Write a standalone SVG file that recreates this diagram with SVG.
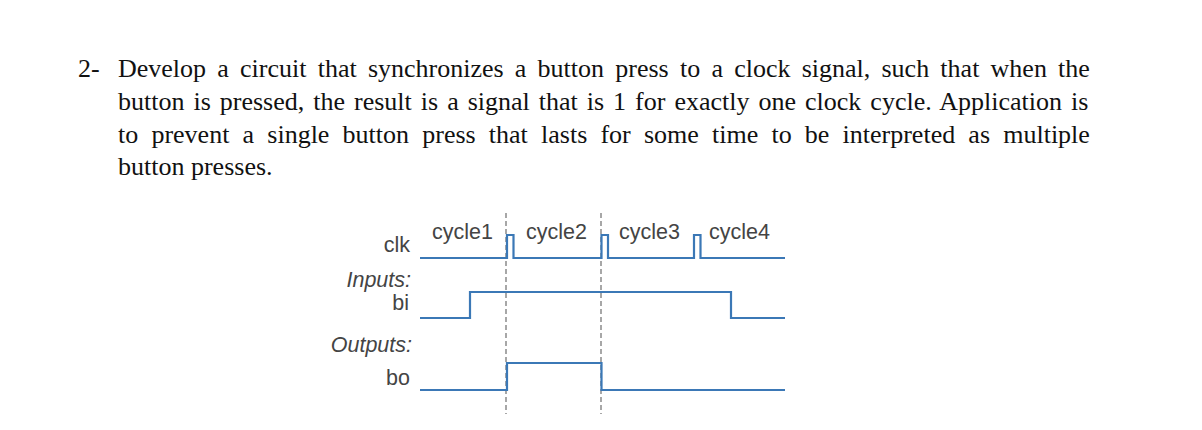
<svg xmlns="http://www.w3.org/2000/svg" width="1202" height="430" viewBox="0 0 1202 430">
<style>
.q{font-family:"Liberation Serif","Times New Roman",serif;font-size:26px;fill:#111}
.lb{font-family:"Liberation Sans",Arial,sans-serif;font-size:21.5px;fill:#444}
.it{font-style:italic}
.sig{fill:none;stroke:#3b78b6;stroke-width:2.2;stroke-linejoin:miter}
.dash{fill:none;stroke:#8a8a8a;stroke-width:1.5;stroke-dasharray:5 3}
</style>
<rect width="1202" height="430" fill="#ffffff"/>
<g id="question">
<text class="q" x="78" y="77">2-</text>
<text class="q" x="118" y="77" word-spacing="4.72">Develop a circuit that synchronizes a button press to a clock signal, such that when the</text>
<text class="q" x="118" y="110" word-spacing="2.5">button is pressed, the result is a signal that is 1 for exactly one clock cycle. Application is</text>
<text class="q" x="118" y="142.5" word-spacing="6.69">to prevent a single button press that lasts for some time to be interpreted as multiple</text>
<text class="q" x="118" y="175">button presses.</text>
</g>
<g id="guides">
<line class="dash" x1="506" y1="213" x2="506" y2="414"/>
<line class="dash" x1="601" y1="213" x2="601" y2="414"/>
</g>
<g id="clk">
<text class="lb" x="410" y="252" text-anchor="end">clk</text>
<text class="lb" x="432" y="239">cycle1</text>
<text class="lb" x="526" y="239">cycle2</text>
<text class="lb" x="619" y="239">cycle3</text>
<text class="lb" x="709" y="239">cycle4</text>
<polyline class="sig" points="420,258 507,258 507,235 513.5,235 513.5,258 601.5,258 601.5,235 608,235 608,258 694,258 694,235 700.5,235 700.5,258 785,258"/>
</g>
<g id="bi">
<text class="lb it" x="411" y="287" text-anchor="end">Inputs:</text>
<text class="lb" x="409" y="309.5" text-anchor="end">bi</text>
<polyline class="sig" points="420,318 470,318 470,292 731,292 731,318 785,318"/>
</g>
<g id="bo">
<text class="lb it" x="412" y="352" text-anchor="end">Outputs:</text>
<text class="lb" x="410" y="385" text-anchor="end">bo</text>
<polyline class="sig" points="420,390 507,390 507,363 601.5,363 601.5,390 785,390"/>
</g>
</svg>
